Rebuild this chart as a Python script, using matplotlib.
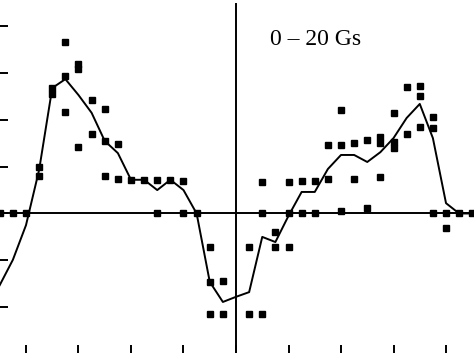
import matplotlib
matplotlib.use("Agg")
import matplotlib.pyplot as plt
import numpy as np

# measured points: x position (quarter steps) and value
pt_x = [-4.5, -4.25, -4.0,
        -3.75, -3.75,
        -3.5, -3.5,
        -3.25, -3.25, -3.25,
        -3.0, -3.0, -3.0,
        -2.75, -2.75,
        -2.5, -2.5, -2.5,
        -2.25, -2.25,
        -2.0, -1.75, -1.5, -1.5, -1.25, -1.0, -1.0, -0.75,
        -0.5, -0.5, -0.5,
        -0.25, -0.25,
        0.25, 0.25,
        0.5, 0.5, 0.5,
        0.75, 0.75,
        1.0, 1.0, 1.0,
        1.25, 1.25,
        1.5, 1.5,
        1.75, 1.75,
        2.0, 2.0, 2.0,
        2.25, 2.25,
        2.5, 2.5,
        2.75, 2.75, 2.75,
        3.0, 3.0, 3.0,
        3.25, 3.25,
        3.5, 3.5, 3.5,
        3.75, 3.75, 3.75,
        4.0, 4.0, 4.25, 4.5]
pt_y = [0.0, 0.0, 0.0,
        0.99, 0.80,
        2.68, 2.55,
        3.66, 2.94, 2.17,
        3.19, 3.09, 1.42,
        2.43, 1.70,
        2.23, 1.55, 0.80,
        1.49, 0.74,
        0.72, 0.72, 0.72, 0.0, 0.72, 0.69, 0.0, 0.0,
        -0.72, -1.46, -2.15,
        -1.44, -2.15,
        -0.72, -2.15,
        0.67, 0.0, -2.15,
        -0.40, -0.72,
        0.67, 0.0, -0.72,
        0.69, 0.0,
        0.69, 0.0,
        1.46, 0.74,
        2.21, 1.46, 0.05,
        1.51, 0.74,
        1.57, 0.12,
        1.63, 1.51, 0.78,
        2.15, 1.53, 1.40,
        2.70, 1.70,
        2.72, 2.51, 1.85,
        2.06, 1.83, 0.0,
        0.0, -0.31, 0.0, 0.0]

# smoothed curve
line_x = np.arange(-18, 19) / 4.0
line_y = [-1.53, -0.99, -0.25, 0.93, 2.68, 2.87, 2.53, 2.15, 1.55, 1.29,
          0.72, 0.72, 0.50, 0.72, 0.50, 0.0, -1.46, -1.89, -1.78, -1.68,
          -0.50, -0.61, -0.05, 0.46, 0.46, 0.95, 1.25, 1.25, 1.10, 1.31,
          1.61, 2.04, 2.34, 1.61, 0.22, 0.0, 0.0]

xticks = [-4, -3, -2, -1, 0, 1, 2, 3, 4]
yticks = [-2, -1, 0, 1, 2, 3, 4]

fig = plt.figure(figsize=(4.74, 3.53), dpi=100)
ax = fig.add_axes([0, 0, 1, 1])
ax.set_xlim(-4.495, 4.533)
ax.set_ylim(-2.98, 4.56)

ax.axhline(0, color='black', lw=1.4)
ax.plot([0, 0], [-2.98, 4.48], color='black', lw=1.4)

ax.plot(line_x, line_y, color='black', lw=1.4)
ax.plot(pt_x, pt_y, 's', color='black', ms=5, linestyle='None')

ax.text(0.65, 3.60, '0 \u2013 20 Gs', fontsize=17, family='Liberation Serif',
        ha='left', va='baseline')

for s in ax.spines.values():
    s.set_visible(False)
ax.set_xticks(xticks)
ax.set_yticks(yticks)
ax.tick_params(direction='in', length=6, width=1.4, color='black',
               labelleft=False, labelbottom=False)

fig.savefig('out.png', dpi=100)
